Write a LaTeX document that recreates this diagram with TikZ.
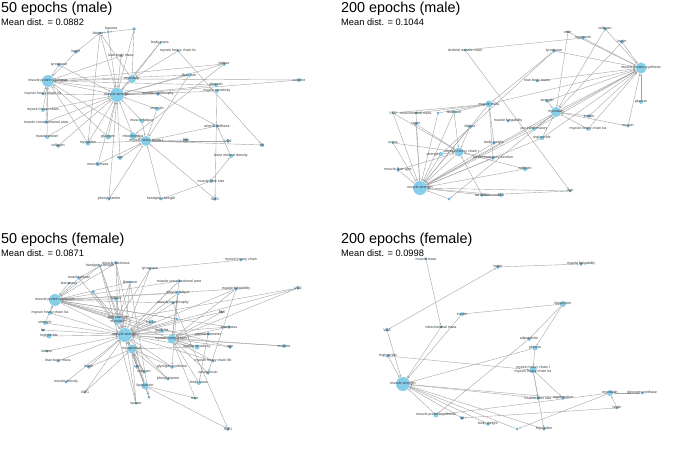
\documentclass[tikz,border=0pt]{standalone}
\usepackage{fontspec}
\setmainfont{Liberation Sans}
\usetikzlibrary{arrows.meta,backgrounds}
\definecolor{nodeblue}{RGB}{135,206,235}
\definecolor{nodedark}{RGB}{105,175,210}
\definecolor{edgegray}{RGB}{165,165,165}
\definecolor{lblgray}{RGB}{55,55,55}
\tikzset{
  gnode/.style={circle,fill=nodeblue,inner sep=0pt,draw=none},
  gsmall/.style={fill=nodedark},
  glabel/.style={inner sep=0pt,text=lblgray,font=\fontsize{3.6}{4}\selectfont,align=center},
  edge/.style={draw=edgegray,line width=0.4pt,-{Stealth[length=2.2pt,width=1.7pt]}},
  ttl/.style={anchor=base west,inner sep=0pt,font=\fontsize{14.4}{16}\selectfont},
  sub/.style={anchor=base west,inner sep=0pt,font=\fontsize{9.3}{11}\selectfont}
}
% node with label at its centre
\newcommand\gn[5]{%
  \ifdim #4pt<2pt
    \node[gnode,gsmall,minimum size=#4*2pt] (#1) at (#2,#3) {};
  \else
    \node[gnode,minimum size=#4*2pt] (#1) at (#2,#3) {};
  \fi
  \node[glabel] at (#2,#3) {#5};}
% node with label shifted by (#6,#7)
\newcommand\gno[7]{%
  \ifdim #4pt<2pt
    \node[gnode,gsmall,minimum size=#4*2pt] (#1) at (#2,#3) {};
  \else
    \node[gnode,minimum size=#4*2pt] (#1) at (#2,#3) {};
  \fi
  \node[glabel] at ([shift={(#6,#7)}]#2,#3) {#5};}
\begin{document}
\begin{tikzpicture}[x=1pt,y=-1pt]
\useasboundingbox (0,0) rectangle (685,460);
% titles
\node[ttl] (t1) at (1,13) {50 epochs (male)};
\node[sub] (s1) at (1,26) {Mean dist. = 0.0882};
\node[ttl] (t2) at (341,13) {200 epochs (male)};
\node[sub] (s2) at (341,26) {Mean dist. = 0.1044};
\node[ttl] (t3) at (1,243) {50 epochs (female)};
\node[sub] (s3) at (1,256) {Mean dist. = 0.0871};
\node[ttl] (t4) at (341,243) {200 epochs (female)};
\node[sub] (s4) at (341,256) {Mean dist. = 0.0998};
% ---------------- panel A
\gno{a1}{100}{33}{1.5}{fatigue}{-2}{1}
\gno{a2}{108}{32}{1.5}{hypoxia}{3}{-3}
\gn{a3}{134}{29}{1.8}{}
\gn{a4}{160}{43}{1.5}{body mass}
\gn{a5}{178}{51}{1.3}{myosin heavy chain IIx}
\gn{a6}{76}{52}{1.8}{leptin}
\gn{a7}{121}{56}{1.5}{lean body mass}
\gn{a8}{59}{65}{1.8}{tyrosinase}
\gn{a9}{224}{64}{2}{fatigue}
\gn{a10}{48}{81}{6}{muscle protein synthesis}
\gn{a11}{132}{79}{4}{myostatin}
\gn{a12}{189}{75}{2}{fiber size}
\gn{a13}{299}{80}{2}{creatine}
\gn{a14}{117}{95}{7}{muscle strength}
\gn{a15}{43}{94}{1.5}{myosin heavy chain IIa}
\gn{a16}{158}{94}{1.8}{muscle hypertrophy}
\gn{a17}{216}{85}{2}{ubiquitin}
\gn{a18}{217}{91}{2}{insulin sensitivity}
\gn{a19}{43}{110}{2}{myosin heavy chain}
\gn{a20}{157}{109}{2}{strength}
\gn{a21}{46}{122}{1.8}{muscle cross sectional area}
\gn{a22}{142}{121}{2.2}{muscle fatigue}
\gn{a23}{217}{126}{1.8}{arterial stiffness}
\gn{a24}{47}{137}{2}{muscle power}
\gn{a25}{58}{146}{1.8}{collagen}
\gn{a26}{88}{143}{2.5}{myoglobin}
\gn{a27}{108}{137}{2.5}{glycogen}
\gn{a28}{133}{136}{3.5}{mitochondria}
\gn{a29}{146}{141}{5}{myosin heavy chain I}
\gn{a30}{186}{140}{1.8}{BMI}
\gn{a31}{228}{141}{1.8}{VO2}
\gn{a32}{262}{145}{2}{fat}
\gn{a33}{231}{156}{2}{bone mineral density}
\gn{a34}{98}{164}{2.2}{muscle mass}
\gn{a35}{120}{158}{2}{age}
\gn{a36}{211}{181}{2}{muscle fibre size}
\gn{a37}{109}{199}{1.5}{phenylalanine}
\gn{a38}{161}{199}{1.5}{handgrip strength}
\gn{a39}{215}{199}{1.8}{IGF1}
% ---------------- panel B
\gn{b1}{568}{32}{1.5}{mtor}
\gn{b2}{583}{38}{2}{myogenin}
\gn{b3}{605}{29}{1.8}{collagen}
\gn{b4}{622}{42}{1.8}{leptin}
\gn{b5}{465}{50}{1.5}{skeletal muscle mass}
\gn{b6}{554}{51}{1.8}{tyrosinase}
\gn{b7}{641}{68}{5.5}{muscle protein synthesis}
\gn{b8}{537}{81}{1.5}{lean body mass}
\gn{b9}{547}{101}{1.8}{strength}
\gn{b10}{641}{102}{2}{glucose}
\gn{b11}{489}{104}{3.5}{muscle mass}
\gn{b12}{556}{112}{5}{myostatin}
\gn{b13}{393}{113}{1.5}{VO2}
\gn{b14}{416}{113}{1.5}{mitochondrial mass}
\gn{b15}{438}{113}{1.5}{}
\gn{b16}{454}{112}{1.8}{fiber size}
\gn{b17}{589}{116}{1.8}{insulin}
\gn{b18}{416}{124}{1.8}{leptin}
\gn{b19}{508}{121}{1.5}{muscle fatigability}
\gn{b20}{628}{126}{1.5}{myosin}
\gn{b21}{470}{127}{2}{fatigue}
\gn{b22}{534}{129}{2}{pro-inflammatory}
\gn{b23}{588}{129}{2}{myosin heavy chain IIa}
\gn{b24}{542}{138}{2.2}{triglyceride}
\gn{b25}{494}{143}{1.8}{body weight}
\gn{b26}{393}{143}{1.5}{puma}
\gno{b27}{459}{152}{4.5}{myosin heavy chain I}{3}{0}
\gno{b28}{441}{154}{2.2}{strength}{-8}{1}
\gn{b29}{493}{158}{1.8}{cardiorespiratory function}
\gn{b30}{525}{169}{2.2}{collagen}
\gn{b31}{398}{170}{1.8}{muscle fiber type}
\gn{b32}{420}{188}{7}{muscle strength}
\gn{b33}{482}{195}{1.8}{fat mass}
\gn{b34}{501}{195}{2}{BMI}
\gn{b35}{449}{199}{1.5}{}
\gn{b36}{570}{191}{1.5}{age}
% ---------------- panel C
\gn{c1}{241}{260}{1.5}{myosin heavy chain}
\gn{c2}{116}{263}{1.8}{muscle thickness}
\gn{c3}{100}{266}{1.5}{handgrip strength}
\gn{c4}{150}{269}{1.5}{tyrosinase}
\gn{c5}{79}{278}{1.8}{muscle power}
\gn{c6}{69}{283}{1.5}{lean mass}
\gn{c7}{130}{282}{1.5}{fiber size}
\gn{c8}{179}{281}{1.8}{muscle cross sectional area}
\gn{c9}{178}{293}{2}{muscle fatigue}
\gn{c10}{93}{292}{1.8}{}
\gn{c11}{298}{288}{1.8}{VO2}
\gn{c12}{236}{289}{1.8}{muscle fatigability}
\gn{c13}{55}{300}{6}{muscle protein synthesis}
\gn{c14}{116}{299}{2}{fatigue}
\gn{c15}{173}{303}{1.5}{muscle hypertrophy}
\gn{c16}{50}{313}{2}{myosin heavy chain IIa}
\gn{c17}{222}{312}{1.5}{BMI}
\gn{c18}{45}{323}{2}{strength}
\gn{c19}{118}{320}{4.5}{grip strength\\myostatin}
\gn{c20}{151}{322}{2.5}{insulin}
\gn{c21}{177}{319}{1.5}{}
\gn{c22}{43}{330}{1.5}{fat}
\gn{c23}{229}{327}{1.8}{lean mass}
\gn{c24}{162}{331}{2}{body fat}
\gn{c25}{49}{336}{2.5}{triglyceride}
\gn{c26}{125}{335}{7}{muscle strength}
\gn{c27}{172}{339}{4.5}{myosin heavy chain I}
\gn{c28}{208}{334}{1.8}{arterial diameter}
\gn{c29}{132}{349}{4.5}{myogenesis}
\gn{c30}{197}{347}{2.5}{insulin sensitivity}
\gn{c31}{230}{347}{1.8}{age}
\gn{c32}{284}{346}{2}{creatine}
\gn{c33}{47}{351}{1.5}{ketone}
\gn{c34}{58}{361}{1.5}{lean body mass}
\gn{c35}{213}{361}{1.5}{myosin heavy chain IIb}
\gn{c36}{89}{367}{1.8}{leptin}
\gn{c37}{137}{367}{1.8}{sex}
\gn{c38}{144}{372}{1.5}{collagen}
\gn{c39}{172}{367}{1.8}{glycogen synthase}
\gn{c40}{208}{373}{1.5}{vasopressin}
\gn{c41}{168}{379}{1.5}{phenylalanine}
\gn{c42}{66}{382}{1.5}{muscle density}
\gn{c43}{199}{383}{2}{body mass}
\gn{c44}{145}{386}{3.5}{lipoprotein}
\gn{c45}{85}{392}{1.5}{IGF1}
\gn{c46}{149}{397}{1.5}{}
\gn{c47}{195}{398}{1.5}{mtor}
\gn{c48}{136}{403}{1.5}{lactate}
\gn{c49}{228}{429}{1.8}{IGF1}
% ---------------- panel D
\gn{d1}{426}{259}{1.5}{muscle mass}
\gn{d2}{498}{267}{1.8}{leptin}
\gn{d3}{581}{264}{1.8}{muscle fatigability}
\gn{d4}{563}{304}{3}{lipoprotein}
\gn{d5}{462}{314}{2}{insulin}
\gn{d6}{441}{327}{1.5}{mitochondrial mass}
\gn{d7}{387}{330}{1.8}{VO2}
\gn{d8}{529}{339}{1.8}{adiponectin}
\gn{d9}{535}{348}{2.5}{glucose}
\gn{d10}{388}{356}{1.8}{triglyceride}
\gn{d11}{533}{370}{3.5}{myosin heavy chain I\\myosin heavy chain IIa}
\gn{d12}{403}{384}{7}{muscle strength}
\gn{d13}{610}{393}{3}{myostatin}
\gn{d14}{642}{393}{1.5}{glycogen synthase}
\gn{d15}{538}{398}{1.8}{muscle fiber size}
\gn{d16}{563}{398}{1.8}{regeneration}
\gn{d17}{617}{408}{1.5}{leptin}
\gn{d18}{436}{415}{2.5}{muscle protein synthesis}
\gn{d19}{462}{418}{1.8}{fat}
\gn{d20}{488}{424}{1.8}{body weight}
\gn{d21}{517}{429}{1.5}{}
\gn{d22}{544}{429}{1.5}{myoglobin}
\begin{pgfonlayer}{background}
\fill[white] (0,0) rectangle (685,460);
% panel A edges
\foreach \s/\t in {a1/a14,a2/a14,a3/a14,a7/a14,a11/a14,a12/a14,a13/a14,a16/a14,a17/a14,a18/a14,
  a20/a14,a22/a14,a28/a14,a27/a14,a26/a14,a25/a14,a24/a14,a21/a14,a19/a14,a15/a14,a34/a14,
  a35/a14,a37/a14,a4/a14,a9/a14,a8/a14,a10/a14,
  a8/a10,a6/a10,a11/a10,a12/a10,a9/a10,a15/a10,a19/a10,a24/a10,a26/a10,a27/a10,a29/a10,a7/a10,a21/a10,a16/a10,a17/a10,
  a30/a29,a31/a29,a32/a29,a23/a29,a39/a29,a38/a29,a37/a29,a34/a29,a35/a29,a28/a29,a26/a29,a20/a29,a22/a29,a12/a29,
  a5/a32,a1/a6,a3/a2,a1/a2,a11/a1,a11/a3,a4/a11,a5/a11,a36/a33,a38/a36,a33/a23,a18/a39,a16/a23,a13/a11,a1/a26,a9/a28}
  \draw[edge] (\s) -- (\t);
% panel B edges
\foreach \s/\t in {b1/b7,b2/b7,b3/b7,b4/b7,b6/b7,b8/b7,b10/b7,b12/b7,b17/b7,b20/b7,b23/b7,b24/b7,b22/b7,b11/b7,b9/b7,
  b1/b12,b3/b12,b9/b12,b17/b12,b20/b12,b23/b12,b22/b12,b24/b12,
  b13/b32,b14/b32,b15/b32,b16/b32,b18/b32,b26/b32,b21/b32,b27/b32,b28/b32,b31/b32,b30/b32,b33/b32,b34/b32,b35/b32,
  b36/b32,b22/b32,b24/b32,b12/b32,b7/b32,b11/b32,b25/b32,b29/b32,
  b13/b27,b18/b27,b21/b27,b28/b27,b29/b27,b30/b27,b31/b27,b33/b27,b26/b27,b16/b27,
  b6/b11,b13/b11,b14/b11,b15/b11,b16/b11,b25/b11,b29/b11,
  b5/b2,b5/b36,b36/b33,b6/b28,b4/b12,b34/b33,b12/b35}
  \draw[edge] (\s) -- (\t);
% panel C edges
\foreach \s/\t in {c2/c26,c3/c26,c4/c26,c5/c26,c7/c26,c8/c26,c9/c26,c10/c26,c11/c26,c12/c26,c13/c26,c14/c26,c15/c26,
  c16/c26,c18/c26,c19/c26,c20/c26,c21/c26,c22/c26,c23/c26,c24/c26,c25/c26,c27/c26,c28/c26,c29/c26,c30/c26,c33/c26,
  c34/c26,c36/c26,c37/c26,c38/c26,c39/c26,c41/c26,c42/c26,c44/c26,c45/c26,c46/c26,c48/c26,c17/c26,c32/c26,c35/c26,
  c2/c13,c3/c13,c5/c13,c6/c13,c7/c13,c9/c13,c14/c13,c15/c13,c16/c13,c18/c13,c19/c13,c20/c13,c21/c13,c23/c13,c24/c13,
  c12/c13,c30/c13,c31/c13,c8/c13,
  c8/c27,c9/c27,c12/c27,c17/c27,c28/c27,c30/c27,c31/c27,c32/c27,c35/c27,c40/c27,c43/c27,c23/c27,c47/c27,c11/c27,
  c36/c29,c37/c29,c38/c29,c39/c29,c41/c29,c44/c29,c45/c29,c46/c29,c48/c29,c30/c29,
  c2/c19,c3/c19,c4/c19,c7/c19,c14/c19,c10/c19,c11/c19,
  c1/c4,c15/c49,c44/c49,c44/c47,c12/c40,c3/c5,c9/c39,c28/c43,c2/c44,c3/c48,c7/c46}
  \draw[edge] (\s) -- (\t);
% panel D edges
\foreach \s/\t in {d7/d12,d10/d12,d6/d12,d5/d12,d1/d6,d7/d2,d2/d3,d5/d4,d4/d8,d4/d9,d8/d18,d9/d12,d9/d11,d10/d11,
  d11/d15,d11/d16,d11/d22,d15/d12,d16/d12,d21/d12,d22/d12,d19/d12,d20/d12,d18/d12,d14/d13,d17/d13,d13/d21,d13/d18,d17/d19}
  \draw[edge] (\s) -- (\t);
\end{pgfonlayer}
\end{tikzpicture}
\end{document}
